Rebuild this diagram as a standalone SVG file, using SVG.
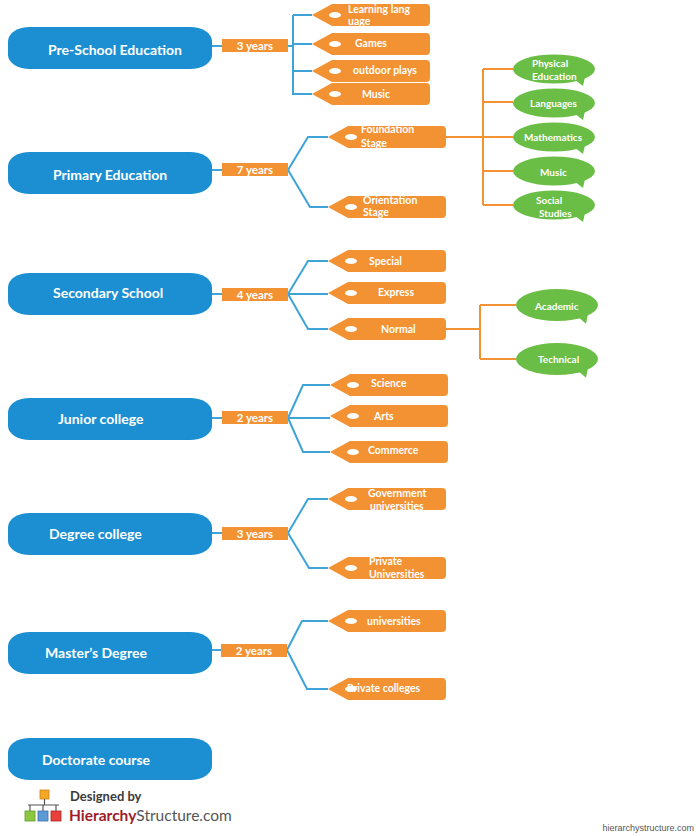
<svg xmlns="http://www.w3.org/2000/svg" xmlns:xlink="http://www.w3.org/1999/xlink" width="696" height="836" viewBox="0 0 696 836">
<style>
.bn{fill:#1b8fd2}
.bt{font-family:Lato,"Open Sans","Liberation Sans",sans-serif;font-weight:bold;font-size:14px;fill:#fff}
.yr{fill:#f39232}
.yt{font-family:Lato,"Open Sans","Liberation Sans",sans-serif;font-weight:bold;font-size:11.5px;fill:#fff;text-anchor:middle}
.tt{font-family:Lato,"Open Sans","Liberation Sans",sans-serif;font-weight:bold;font-size:10.5px;fill:#fff}
.gt{font-family:Lato,"Open Sans","Liberation Sans",sans-serif;font-weight:bold;font-size:10px;fill:#fff}
.cb{fill:none;stroke:#3ea4d8;stroke-width:2}
.co{fill:none;stroke:#f39232;stroke-width:2}
</style>
<defs>
<g id="tag">
<path d="M0,11 L20,0 H114 Q118,0 118,4 V18 Q118,22 114,22 H20 Z" fill="#f39232"/>
<ellipse cx="23" cy="11" rx="6" ry="3" fill="#fff"/>
</g>
<g id="bub">
<path d="M20,10 L29,17 L31,8 Z" fill="#6abd45"/>
<ellipse cx="0" cy="0" rx="41" ry="14.5" fill="#6abd45"/>
</g>
<rect id="blue" x="0" y="0" width="204" height="42" rx="22" ry="14"/>
</defs>

<g id="connectors">
<path class="cb" d="M212,46 H222 M288,46 H293 M293,15 V95 M293,15 H312 M293,44 H312 M293,71 H312 M293,94 H312"/>
<path class="cb" d="M212,170 H222 M288,170 L308,137 H328 M288,170 L310,207 H328"/>
<path class="cb" d="M212,294 H222 M288,294 L308,261 H328 M288,294 H328 M288,294 L308,329 H328"/>
<path class="cb" d="M212,418 H222 M288,418 L303,385 H330 M288,418 H330 M288,418 L303,452 H330"/>
<path class="cb" d="M212,533 H222 M288,533 L308,499 H328 M288,533 L309,568 H328"/>
<path class="cb" d="M212,650 H222 M287,650 L302,621 H328 M287,650 L307,689 H328"/>
<path class="co" d="M444,137 H483 M483,69 V205 M483,69 H513 M483,102 H513 M483,137 H513 M483,171 H513 M483,205 H513"/>
<path class="co" d="M444,329 H480 M480,305 V359 M480,305 H516 M480,359 H516"/>
</g>

<g id="n-preschool">
<use xlink:href="#blue" href="#blue" class="bn" x="8" y="27"/>
<text class="bt" x="48" y="55">Pre-School Education</text>
<rect class="yr" x="222" y="39" width="66" height="13"/>
<text class="yt" x="255" y="50">3 years</text>
</g>
<g id="n-learning"><use href="#tag" xlink:href="#tag" x="312" y="4"/><text class="tt" x="348" y="13">Learning lang</text><text class="tt" x="348" y="25">uage</text></g>
<g id="n-games"><use href="#tag" xlink:href="#tag" x="312" y="33"/><text class="tt" x="355" y="47">Games</text></g>
<g id="n-outdoor"><use href="#tag" xlink:href="#tag" x="312" y="60"/><text class="tt" x="353" y="74">outdoor plays</text></g>
<g id="n-music1"><use href="#tag" xlink:href="#tag" x="312" y="83"/><text class="tt" x="362" y="98">Music</text></g>

<g id="n-primary">
<use xlink:href="#blue" href="#blue" class="bn" x="8" y="152"/>
<text class="bt" x="53" y="180">Primary Education</text>
<rect class="yr" x="222" y="163" width="66" height="13"/>
<text class="yt" x="255" y="174">7 years</text>
</g>
<g id="n-foundation"><use href="#tag" xlink:href="#tag" x="328" y="126"/><text class="tt" x="361" y="133">Foundation</text><text class="tt" x="361" y="147">Stage</text></g>
<g id="n-orientation"><use href="#tag" xlink:href="#tag" x="328" y="196"/><text class="tt" x="363" y="204">Orientation</text><text class="tt" x="363" y="216">Stage</text></g>
<g id="n-pe"><use href="#bub" xlink:href="#bub" x="554" y="69"/><text class="gt" x="532" y="67">Physical</text><text class="gt" x="532" y="80">Education</text></g>
<g id="n-lang"><use href="#bub" xlink:href="#bub" x="554" y="103"/><text class="gt" x="530" y="107">Languages</text></g>
<g id="n-math"><use href="#bub" xlink:href="#bub" x="554" y="137"/><text class="gt" x="524" y="141">Mathematics</text></g>
<g id="n-music2"><use href="#bub" xlink:href="#bub" x="554" y="171"/><text class="gt" x="540" y="176">Music</text></g>
<g id="n-social"><use href="#bub" xlink:href="#bub" x="554" y="205"/><text class="gt" x="536" y="204">Social</text><text class="gt" x="539" y="217">Studies</text></g>

<g id="n-secondary">
<use xlink:href="#blue" href="#blue" class="bn" x="8" y="273"/>
<text class="bt" x="53" y="298">Secondary School</text>
<rect class="yr" x="222" y="288" width="66" height="13"/>
<text class="yt" x="255" y="299">4 years</text>
</g>
<g id="n-special"><use href="#tag" xlink:href="#tag" x="328" y="250"/><text class="tt" x="369" y="265">Special</text></g>
<g id="n-express"><use href="#tag" xlink:href="#tag" x="328" y="282"/><text class="tt" x="378" y="296">Express</text></g>
<g id="n-normal"><use href="#tag" xlink:href="#tag" x="328" y="318"/><text class="tt" x="381" y="333">Normal</text></g>
<g id="n-academic"><g transform="translate(557,305) scale(1,1.1)"><use href="#bub" xlink:href="#bub"/></g><text class="gt" x="535" y="310">Academic</text></g>
<g id="n-technical"><g transform="translate(557,359) scale(1,1.1)"><use href="#bub" xlink:href="#bub"/></g><text class="gt" x="538" y="363">Technical</text></g>

<g id="n-junior">
<use xlink:href="#blue" href="#blue" class="bn" x="8" y="398"/>
<text class="bt" x="58" y="424">Junior college</text>
<rect class="yr" x="222" y="411" width="66" height="13"/>
<text class="yt" x="255" y="422">2 years</text>
</g>
<g id="n-science"><use href="#tag" xlink:href="#tag" x="330" y="374"/><text class="tt" x="371" y="387">Science</text></g>
<g id="n-arts"><use href="#tag" xlink:href="#tag" x="330" y="405"/><text class="tt" x="374" y="420">Arts</text></g>
<g id="n-commerce"><use href="#tag" xlink:href="#tag" x="330" y="441"/><text class="tt" x="368" y="454">Commerce</text></g>

<g id="n-degree">
<use xlink:href="#blue" href="#blue" class="bn" x="8" y="513"/>
<text class="bt" x="49" y="539">Degree college</text>
<rect class="yr" x="222" y="527" width="66" height="13"/>
<text class="yt" x="255" y="538">3 years</text>
</g>
<g id="n-gov"><use href="#tag" xlink:href="#tag" x="328" y="488"/><text class="tt" x="368" y="497">Government</text><text class="tt" x="370" y="510">universities</text></g>
<g id="n-privuni"><use href="#tag" xlink:href="#tag" x="328" y="557"/><text class="tt" x="369" y="565">Private</text><text class="tt" x="369" y="578">Universities</text></g>

<g id="n-master">
<use xlink:href="#blue" href="#blue" class="bn" x="8" y="632"/>
<text class="bt" x="45" y="658">Master’s Degree</text>
<rect class="yr" x="221" y="644" width="66" height="13"/>
<text class="yt" x="254" y="655">2 years</text>
</g>
<g id="n-uni"><use href="#tag" xlink:href="#tag" x="328" y="610"/><text class="tt" x="367" y="625">universities</text></g>
<g id="n-privcol"><use href="#tag" xlink:href="#tag" x="328" y="678"/><text class="tt" x="347" y="692">Private colleges</text></g>

<g id="n-doctorate">
<use xlink:href="#blue" href="#blue" class="bn" x="8" y="738"/>
<text class="bt" x="42" y="765">Doctorate course</text>
</g>

<g id="logo">
<rect x="40" y="790" width="9" height="9" fill="#f7a823" stroke="#c9801a" stroke-width="0.8"/>
<path d="M44.5,799 V805 M28,805 H59 M30,805 V811 M43,805 V811 M56,805 V811" stroke="#555" stroke-width="1.2" fill="none"/>
<rect x="25" y="811" width="10" height="10" fill="#8dc63f" stroke="#5f9a2a" stroke-width="0.8"/>
<rect x="38" y="811" width="10" height="10" fill="#5b9bd5" stroke="#3a6fa8" stroke-width="0.8"/>
<rect x="51" y="811" width="10" height="10" fill="#e8413c" stroke="#a82522" stroke-width="0.8"/>
<text x="70" y="801" font-family="Lato,'Open Sans','Liberation Sans',sans-serif" font-weight="bold" font-size="13" fill="#3a3a3a">Designed by</text>
<text x="69" y="821" font-family="Lato,'Open Sans','Liberation Sans',sans-serif" font-size="15.5"><tspan font-weight="bold" fill="#9e1b2a">Hierarchy</tspan><tspan fill="#555">Structure.com</tspan></text>
</g>
<text x="694" y="831" text-anchor="end" font-family="'Liberation Sans',Arial,sans-serif" font-size="9" fill="#555">hierarchystructure.com</text>
</svg>
